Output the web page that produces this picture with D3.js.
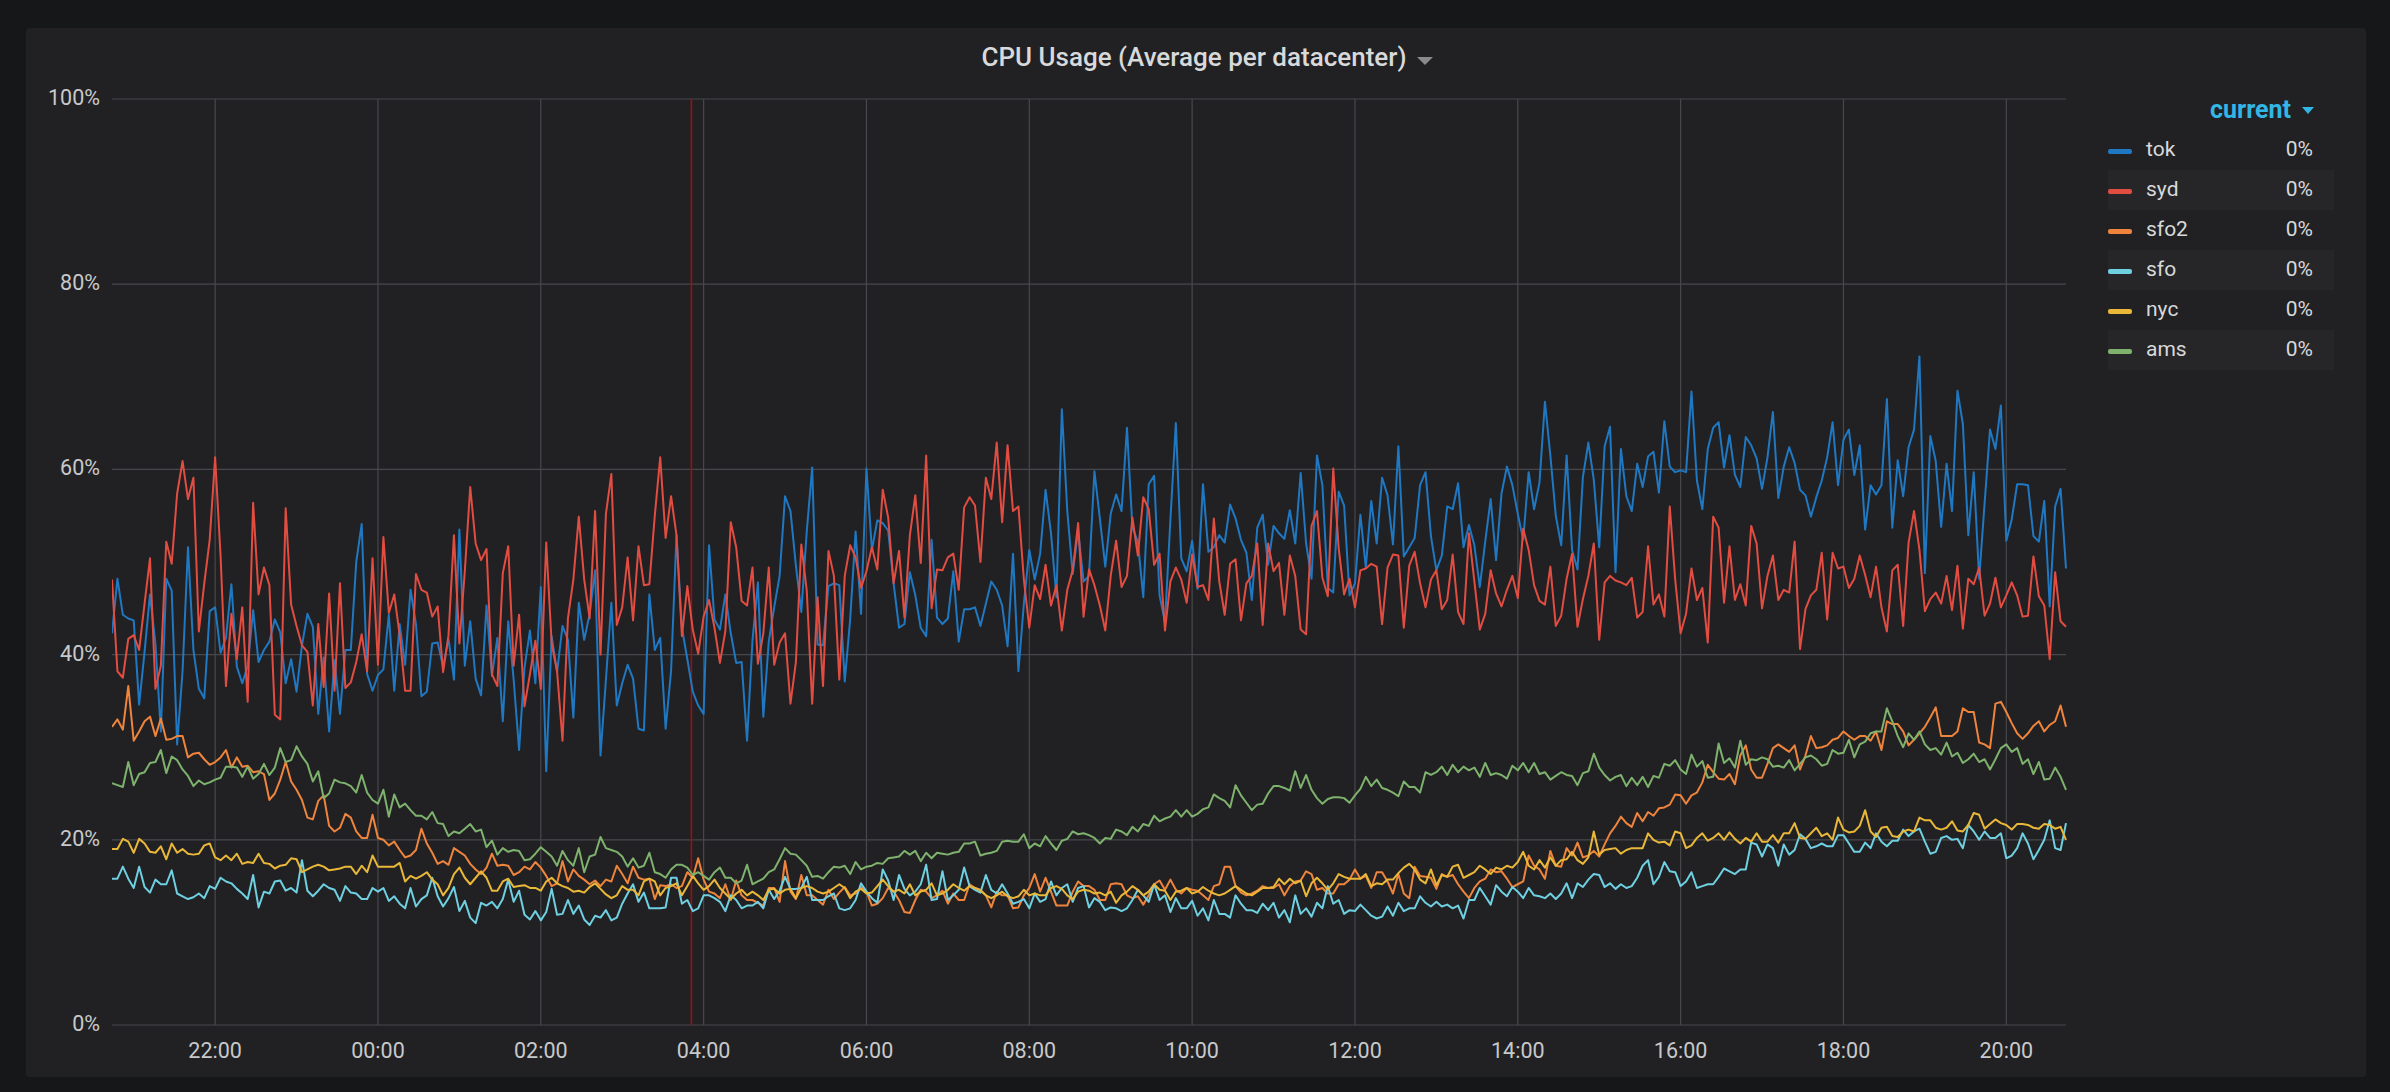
<!DOCTYPE html>
<html>
<head>
<meta charset="utf-8">
<script src="https://cdn.jsdelivr.net/npm/d3@7/dist/d3.min.js"></script>
<style>
  html, body { margin: 0; padding: 0; background: #161719; }
  svg { display: block; }
  text { font-family: Roboto, "Noto Sans", "DejaVu Sans", sans-serif; }
</style>
</head>
<body>
<svg id="chart" width="2390" height="1092"></svg>
<script>
// ---------------- DATA (values in %, one sample every 4 minutes from 20:44) ----------------
const chartTitle = "CPU Usage (Average per datacenter)";
const seriesNames = ["tok", "syd", "sfo2", "sfo", "nyc", "ams"];
const seriesColors = ["#1f78c1", "#e24d42", "#ef843c", "#6ed0e0", "#eab839", "#7eb26d"];
const legendCurrent = ["0%", "0%", "0%", "0%", "0%", "0%"];
const yTickValues = [0, 20, 40, 60, 80, 100];
const startTimeUTC = Date.UTC(2018, 0, 1, 20, 44);
const stepMinutes = 4;
const annotationTimeUTC = Date.UTC(2018, 0, 2, 3, 51);

const tokValues = [
42.3,48.2,44.3,43.9,43.7,34.6,40.3,46.5,41.2,31.7,48.2,46.9,30.3,38.2,51.6,40.5,36.3,35.3,44.7,45.1,40.2,41.8,47.6,38.7,36.9,38.8,44.8,39.2,40.5,41.4,43.8,42.4,36.9,39.5,36.0,41.0,44.4,43.0,33.6,39.7,31.7,39.4,33.6,40.5,40.5,50.0,
54.1,37.9,36.1,37.8,38.4,44.3,36.1,43.3,38.9,47.0,43.3,35.5,36.0,41.2,41.3,38.7,41.7,37.3,53.5,38.8,43.6,37.4,35.6,45.3,37.7,41.8,32.8,43.6,37.3,29.7,38.6,42.6,36.9,47.3,27.4,42.0,38.1,43.1,41.6,33.2,45.6,41.6,44.4,49.1,29.1,37.3,
45.6,34.5,36.9,38.9,37.4,32.0,31.8,46.5,40.5,41.8,32.0,38.2,52.9,42.9,39.5,36.0,34.5,33.6,51.8,43.8,42.7,46.5,42.3,39.1,39.2,30.7,41.5,47.8,33.3,41.4,45.1,48.5,57.1,55.5,49.6,44.6,53.3,60.2,41.1,41.0,47.4,47.7,47.5,37.1,43.8,
53.3,44.4,60.1,51.3,54.5,54.2,53.4,47.7,42.9,43.3,48.9,46.4,42.9,42.0,52.4,44.0,43.3,43.9,49.0,41.4,44.9,44.9,45.1,43.1,45.5,47.9,47.0,45.3,40.9,50.9,38.2,45.5,51.3,48.1,50.9,57.8,53.1,46.2,66.5,55.5,48.7,53.4,47.9,48.5,59.8,
54.7,49.5,55.2,57.3,55.5,64.5,53.7,52.2,46.2,58.4,59.3,46.4,43.5,54.6,65.0,50.4,49.0,52.3,47.1,58.4,51.1,51.6,52.9,52.1,56.2,54.7,52.4,51.0,45.9,53.7,55.1,49.7,53.9,53.1,52.5,55.6,52.0,59.6,52.0,48.2,61.5,58.3,47.2,46.7,57.6,
56.1,46.4,47.7,55.1,49.4,56.6,52.0,59.1,57.2,51.9,62.5,50.6,51.6,52.6,58.3,59.7,52.8,49.1,50.7,56.0,55.7,58.5,51.6,54.0,51.8,47.3,52.2,56.8,50.2,57.4,60.3,58.3,55.2,52.4,59.7,55.7,58.6,67.3,61.5,55.0,51.8,61.5,51.3,49.2,59.2,
62.9,58.9,51.6,62.5,64.6,48.9,62.2,57.1,55.5,60.6,58.1,61.4,61.9,57.5,65.2,60.3,59.7,59.9,59.7,68.4,58.8,55.7,62.2,64.5,65.1,60.2,63.7,59.4,58.1,63.5,62.6,61.2,57.9,61.3,66.2,56.9,60.3,62.4,60.7,57.8,57.2,54.9,57.0,58.8,61.3,
65.1,58.3,63.2,64.3,59.4,62.6,53.5,58.3,57.3,58.3,67.6,53.7,61.0,57.1,62.4,64.3,72.2,48.8,63.6,60.9,53.8,60.6,55.5,68.5,64.9,52.9,59.7,48.2,56.3,64.3,62.2,66.9,52.3,54.6,58.4,58.4,58.3,52.8,52.2,56.6,45.2,56.0,57.9,49.3
];
const sydValues = [
48.1,38.2,37.5,41.7,42.1,40.5,45.5,50.4,36.3,38.8,52.2,49.8,57.4,60.9,56.8,59.1,42.5,47.7,52.4,61.3,50.7,36.6,44.4,39.5,45.1,34.9,56.4,46.5,49.4,47.5,33.5,33.0,55.8,45.4,43.1,41.0,40.3,34.5,43.3,36.5,46.6,36.1,47.7,36.4,37.0,39.2,
42.2,38.2,50.4,38.9,52.7,44.5,46.5,42.1,36.1,36.1,48.7,47.0,46.7,44.1,45.2,38.1,42.1,52.9,41.2,49.0,58.1,52.0,50.2,51.4,37.9,36.6,48.8,51.7,38.8,44.3,34.4,37.9,41.5,36.3,52.1,41.2,38.2,30.7,43.9,48.1,54.9,48.1,43.9,55.5,40.0,55.2,
59.5,43.2,45.1,50.5,43.7,51.7,47.5,47.6,55.0,61.3,52.6,57.1,52.9,42.0,47.4,42.7,40.1,44.1,45.9,42.9,39.1,42.5,54.3,51.6,45.8,45.3,49.4,39.0,42.3,49.4,38.9,41.3,42.3,34.7,39.2,51.9,46.9,34.7,46.2,36.6,51.2,48.5,37.3,48.5,51.8,
50.5,47.2,49.0,51.6,49.2,57.8,54.8,47.7,51.2,44.0,52.9,57.2,49.9,61.5,45.0,49.2,49.1,50.5,50.9,47.0,55.9,57.0,56.1,50.0,59.1,56.8,62.9,54.3,62.6,55.5,56.0,48.1,42.9,47.5,46.0,49.7,45.3,47.5,42.6,47.0,49.1,54.2,44.1,49.2,47.5,
45.3,42.6,48.5,52.3,47.3,48.5,54.8,50.7,57.0,55.7,49.7,50.9,42.6,47.9,49.4,48.1,45.6,50.8,47.3,47.5,45.9,54.7,47.9,44.3,49.8,50.3,43.7,47.7,48.5,52.0,43.2,52.0,49.0,49.9,44.3,50.7,48.5,42.7,42.2,53.9,55.5,48.3,46.3,60.1,51.5,
46.5,48.2,45.1,49.1,49.3,49.8,49.5,43.3,49.4,50.8,50.7,42.9,49.6,51.1,47.7,45.1,48.1,49.1,44.9,45.9,50.8,44.6,43.3,53.1,47.9,42.7,44.4,49.1,46.6,45.2,47.0,48.5,46.1,53.6,51.3,47.5,45.8,45.4,49.5,43.1,44.2,48.2,50.9,43.0,46.0,
48.5,52.0,41.6,47.8,48.5,48.0,47.8,47.5,48.3,44.0,44.6,51.7,45.4,46.5,44.1,56.0,48.1,42.3,44.4,49.3,45.9,47.2,41.3,54.9,53.7,45.6,51.7,45.9,47.6,45.3,53.9,52.0,45.0,48.5,50.7,45.9,47.0,46.7,52.2,40.6,44.9,46.4,47.0,51.0,43.8,
51.0,49.3,49.5,47.2,48.2,50.7,48.6,46.2,49.5,45.1,42.5,49.1,49.7,43.1,52.1,55.5,51.3,44.7,46.0,46.7,45.5,48.5,44.8,49.6,42.8,48.2,47.6,49.4,44.2,45.5,48.3,45.1,46.4,47.8,46.4,44.1,44.2,50.6,46.3,45.3,39.5,48.9,43.6,43.0
];
const sfo2Values = [
32.2,33.0,31.9,36.6,30.7,31.7,32.8,33.3,31.2,33.1,30.8,30.9,31.2,31.2,28.9,29.3,29.4,28.7,28.1,28.4,28.9,29.7,27.8,28.9,27.9,28.0,27.3,27.4,27.1,24.3,25.0,26.5,28.4,26.3,25.4,24.3,22.4,22.2,24.2,24.8,21.5,20.9,21.3,22.8,22.4,20.9,
20.2,20.2,22.7,20.2,20.0,19.4,19.8,18.9,18.1,18.3,18.9,21.2,19.6,18.6,17.4,17.7,17.3,19.1,18.7,18.3,17.4,16.8,16.3,17.0,18.5,17.2,17.3,17.2,16.2,16.5,17.1,16.8,17.6,17.0,16.1,15.0,15.3,17.7,15.5,16.8,16.1,15.7,15.2,15.6,15.0,15.7,
15.5,17.2,16.3,15.3,17.1,15.9,15.7,15.8,13.6,15.1,15.0,15.2,14.8,15.0,16.5,15.9,18.0,15.7,14.4,14.2,13.7,15.2,13.5,15.6,14.0,13.5,13.5,13.2,12.9,14.8,14.8,13.3,17.7,14.4,13.6,16.2,14.0,14.0,13.5,13.0,14.6,13.6,14.3,14.9,14.0,
14.2,14.9,14.4,12.9,13.1,13.7,14.8,14.4,13.5,12.2,12.1,13.5,14.6,14.4,13.7,14.0,14.5,13.1,14.2,13.5,13.5,15.2,14.8,14.6,14.0,12.7,14.4,14.0,14.0,12.6,12.7,14.0,14.8,16.3,14.4,15.9,14.4,12.9,12.9,12.9,14.4,15.5,15.0,15.0,14.6,
13.5,13.5,15.2,15.3,15.2,14.0,13.7,13.9,13.0,14.0,15.2,15.6,14.6,15.7,14.6,14.2,14.8,14.6,14.5,14.0,13.5,15.0,15.2,17.1,17.1,15.0,14.3,14.0,14.2,14.5,15.0,14.8,14.8,15.2,14.0,15.0,15.5,15.6,16.6,16.3,14.6,14.8,14.2,14.2,15.2,
15.2,15.7,16.8,15.8,16.1,14.8,16.5,16.5,15.5,14.2,16.3,14.2,13.7,17.1,16.1,16.0,15.9,14.7,16.3,16.0,16.2,15.2,14.4,13.7,14.8,15.5,15.8,16.8,16.5,16.6,15.8,14.9,15.2,15.5,18.3,17.2,16.8,15.8,18.8,17.2,17.1,19.1,18.3,19.7,18.1,
18.3,18.8,18.2,19.5,20.7,21.5,22.5,21.8,21.4,22.9,22.0,23.0,22.6,23.4,23.5,23.8,24.9,24.8,23.9,24.8,25.1,26.2,28.1,27.3,26.6,26.5,27.1,26.0,29.1,30.2,27.6,26.7,26.7,28.2,29.9,30.3,29.9,29.5,30.2,27.6,29.1,31.2,29.9,30.0,30.2,
30.8,31.0,31.7,31.2,30.8,31.2,31.2,30.7,31.7,29.7,32.8,32.5,32.5,31.7,30.2,30.8,31.5,32.2,33.2,34.3,31.2,31.2,31.2,31.7,34.2,33.8,33.8,30.5,30.3,29.9,34.7,34.9,33.8,32.6,31.5,30.9,31.5,32.3,32.8,31.7,32.4,32.8,34.5,32.2
];
const sfoValues = [
15.8,15.8,17.1,15.8,14.8,17.1,14.9,14.3,15.7,15.2,15.2,16.7,14.2,13.9,13.6,13.8,14.2,13.7,15.0,14.7,15.9,15.5,15.3,14.7,14.2,13.6,16.2,12.7,14.4,14.2,15.5,15.6,14.5,14.8,14.3,17.8,14.5,13.9,14.5,15.2,14.8,14.6,13.4,15.0,14.3,14.2,
13.6,13.6,14.8,14.4,14.8,13.4,13.9,13.1,12.6,14.8,12.8,13.6,14.0,15.9,13.9,12.8,13.7,14.9,12.3,13.4,11.6,11.0,13.2,12.9,13.3,12.6,13.6,15.7,13.3,14.5,11.9,11.4,12.3,11.3,12.2,14.7,11.9,12.0,13.5,12.0,12.9,11.4,10.8,11.8,11.6,12.4,
11.3,11.6,13.1,14.2,15.2,13.3,14.3,12.6,12.6,12.6,12.7,15.9,15.9,13.1,13.5,12.3,12.6,14.0,14.0,13.7,13.3,12.3,14.0,13.5,12.6,12.9,12.9,13.3,12.6,14.6,13.6,14.5,16.0,14.7,14.7,14.8,16.0,13.5,13.5,13.5,13.9,14.2,12.6,12.4,12.6,
13.5,15.3,14.4,13.7,13.2,16.8,15.6,13.5,16.2,14.7,14.0,14.4,15.2,17.3,13.5,13.6,16.6,13.5,14.0,14.6,17.0,15.0,14.6,14.3,16.2,14.6,14.2,15.2,14.2,13.1,13.3,13.6,12.6,14.2,13.3,13.6,15.5,14.0,14.8,15.2,13.3,14.8,15.0,12.7,13.7,
13.3,12.4,12.7,12.6,12.3,12.6,13.5,14.6,14.0,13.3,15.2,13.5,14.0,12.2,13.7,12.6,12.6,13.4,11.8,12.6,11.3,13.5,12.0,12.0,11.6,14.0,13.1,12.4,12.4,12.1,13.1,12.4,13.2,11.6,12.4,11.1,14.0,12.0,12.6,11.7,13.2,12.6,15.0,13.1,13.5,
12.0,12.4,12.3,13.0,12.4,11.8,11.5,11.7,12.8,11.8,13.2,12.3,12.6,12.6,13.9,13.2,12.8,13.3,12.8,13.0,12.6,12.9,11.5,13.5,13.5,14.8,13.9,13.0,15.1,14.4,13.9,14.9,14.4,13.7,14.8,14.0,13.9,13.7,14.2,13.6,14.2,15.3,13.7,15.3,14.9,
15.7,16.3,16.2,14.9,15.3,14.7,15.2,14.8,15.0,15.9,17.2,17.8,15.2,16.0,17.6,16.6,16.5,15.0,15.5,16.5,14.8,15.0,15.2,15.2,16.0,16.9,16.6,16.3,16.8,16.8,19.7,19.5,18.2,19.5,19.1,17.2,19.5,18.4,18.9,20.6,20.1,19.1,19.3,19.6,19.3,
19.3,20.5,20.5,19.6,18.7,18.7,19.7,19.1,20.7,19.8,19.3,19.9,19.9,21.1,20.4,20.9,21.2,19.8,18.5,18.7,20.2,20.4,20.0,20.1,19.1,21.6,20.9,20.0,20.9,20.2,20.2,20.7,18.0,18.3,19.1,20.7,19.6,17.9,18.9,20.0,22.1,19.1,18.9,21.8
];
const nycValues = [
19.0,19.0,20.1,19.8,18.6,20.1,19.6,18.7,18.6,19.3,17.9,19.6,18.6,19.0,18.5,18.4,18.5,19.4,19.6,18.1,17.8,18.3,17.8,18.5,17.4,17.6,17.5,18.5,17.5,17.4,16.9,17.2,17.3,18.0,17.9,16.5,16.8,17.1,17.3,17.1,16.7,16.8,16.9,17.1,17.1,16.3,
17.2,16.5,18.3,17.1,17.1,17.1,17.1,17.5,15.5,16.1,15.8,16.1,16.5,15.7,15.2,14.0,14.8,16.3,17.0,15.9,15.2,15.9,16.6,15.9,14.5,14.5,15.5,15.8,14.9,15.0,15.1,14.8,14.8,14.5,15.5,15.9,15.3,15.0,14.8,14.4,14.5,14.3,14.9,15.3,14.7,14.1,
13.7,14.0,15.0,14.6,14.6,14.0,15.5,15.8,15.5,14.0,14.8,15.0,15.3,14.0,15.0,16.1,15.3,14.6,15.0,15.7,14.8,14.2,13.6,14.2,14.6,14.0,14.4,14.0,13.5,14.6,14.7,14.2,14.6,14.7,13.7,14.8,15.0,14.8,14.4,14.2,14.4,14.8,15.2,14.8,13.7,
14.4,14.7,14.2,14.3,15.0,15.7,15.0,14.4,14.6,14.2,15.2,14.0,14.4,14.6,15.3,14.0,14.2,14.6,15.2,14.8,14.5,15.0,14.8,14.5,14.0,13.7,14.0,14.4,13.9,13.7,13.9,14.6,14.0,14.2,14.0,14.0,14.8,15.0,14.7,14.0,13.6,14.4,14.6,14.5,14.2,
14.3,14.0,14.4,13.2,14.0,14.4,15.0,14.6,14.0,14.4,15.2,14.6,14.5,13.5,14.4,14.5,14.8,14.2,14.4,14.9,14.5,14.2,14.0,14.2,14.6,15.0,14.6,14.2,14.0,14.4,14.8,14.8,14.9,15.8,15.2,15.8,15.3,15.6,13.9,15.3,15.9,15.3,14.6,15.3,16.3,
16.0,15.8,15.8,15.8,16.3,15.0,15.3,15.2,15.7,15.7,16.4,17.0,17.4,16.8,15.7,15.3,16.8,15.1,16.2,16.0,17.1,17.3,15.9,16.2,16.5,17.2,16.8,16.3,17.0,16.8,17.2,17.0,17.6,18.7,17.2,16.8,17.8,17.0,18.1,17.2,17.8,17.9,18.7,17.8,17.4,
18.1,20.9,18.4,18.9,19.0,19.1,18.5,18.9,19.1,19.1,19.1,20.7,20.0,19.7,19.8,19.4,20.9,20.7,19.1,19.4,20.2,20.7,19.9,20.2,20.7,20.0,20.8,20.1,19.6,20.2,19.8,20.7,19.8,19.8,20.5,19.7,20.7,20.7,21.8,20.2,20.1,20.7,21.3,20.4,20.7,
20.0,22.4,21.1,20.8,20.9,21.5,23.2,20.9,20.3,21.3,21.4,20.4,20.3,20.9,21.1,20.9,22.4,22.1,22.1,21.3,21.1,21.3,22.0,21.0,20.9,21.6,22.9,22.7,21.2,21.7,22.2,21.8,21.6,21.1,21.7,21.7,21.6,21.3,21.2,21.7,21.6,21.2,21.4,20.0
];
const amsValues = [
26.1,25.9,25.7,28.4,25.9,27.1,27.3,28.3,28.4,29.7,27.2,29.0,28.6,27.6,26.9,25.8,26.4,26.0,26.2,26.5,26.7,27.9,27.9,27.8,26.8,27.9,26.6,27.1,28.2,27.0,27.8,29.9,28.4,28.6,30.1,29.0,28.2,26.3,27.4,24.5,25.0,26.5,26.2,26.1,25.8,25.1,
27.0,25.1,24.3,23.9,25.4,22.5,24.9,23.5,23.9,23.2,22.6,22.6,22.2,23.0,21.8,21.7,20.4,20.9,20.7,21.2,21.7,20.9,21.1,19.2,19.9,18.4,19.1,18.7,18.9,18.8,17.8,17.9,18.5,19.2,18.7,18.2,17.2,18.8,17.8,17.2,19.1,16.5,18.2,18.4,20.3,19.1,
18.9,18.7,18.2,17.1,18.0,17.0,17.2,18.6,16.5,16.3,15.9,16.8,17.3,17.3,17.0,16.2,16.5,16.1,15.7,16.5,17.0,15.9,15.9,15.3,15.6,17.3,15.2,15.5,15.8,16.5,16.8,17.9,19.1,18.5,18.4,17.8,17.2,16.0,16.1,15.8,16.5,17.1,17.0,17.2,16.3,
17.6,16.8,17.1,17.2,17.5,17.4,18.0,18.1,18.2,18.8,18.4,18.8,17.7,18.6,18.0,18.6,18.5,18.4,18.6,18.7,19.6,19.6,19.8,18.3,18.5,18.6,18.8,19.8,19.9,19.8,19.8,20.6,19.1,19.6,19.3,20.4,19.6,18.9,19.9,20.1,20.9,20.6,20.7,20.5,20.2,
19.6,20.2,20.1,21.1,20.9,20.5,21.4,20.9,21.7,21.5,22.6,22.0,22.3,22.5,23.2,22.5,23.2,22.5,22.8,23.3,23.5,24.9,24.5,24.2,23.5,25.9,24.8,24.0,23.2,23.8,23.9,25.0,25.8,25.8,25.6,25.3,27.4,25.6,27.0,25.4,24.5,23.9,24.4,24.6,24.6,
24.5,24.0,24.8,25.5,26.8,25.8,26.5,25.6,25.4,25.1,24.7,26.3,25.7,25.7,25.1,27.3,27.0,27.3,27.9,27.0,28.1,27.3,27.9,27.5,27.8,26.8,28.3,27.0,27.2,27.0,26.6,28.0,27.5,28.3,27.3,28.3,27.1,27.3,26.5,26.9,27.3,27.0,26.9,25.9,27.2,
27.4,29.3,27.8,27.0,26.4,26.8,27.0,25.8,26.7,25.9,26.8,25.7,26.9,26.7,28.2,28.0,28.6,27.6,27.1,29.2,27.9,28.5,26.7,26.8,30.4,28.3,28.8,27.8,30.7,28.1,28.7,28.6,28.9,28.7,27.9,28.0,27.8,28.6,27.5,28.2,28.9,29.1,28.7,28.0,28.2,
29.7,29.3,29.4,30.8,28.9,30.3,30.6,31.5,31.7,31.7,34.2,32.8,31.2,30.0,31.5,30.8,31.7,30.3,29.7,29.9,29.2,30.5,29.0,29.4,28.3,28.7,29.3,28.4,28.7,27.6,28.7,29.9,30.3,29.5,29.9,28.2,28.7,27.1,28.4,26.5,26.6,27.8,26.8,25.4
];

// ---------------- LAYOUT ----------------
const W = 2390, H = 1092;
const plot = { left: 112, right: 2066, top: 99, bottom: 1025 };
const allValues = [tokValues, sydValues, sfo2Values, sfoValues, nycValues, amsValues];
const nPts = tokValues.length;
const timeAt = i => new Date(startTimeUTC + i * stepMinutes * 60000);

const svg = d3.select("#chart");

// background & panel
svg.append("rect").attr("x", 0).attr("y", 0).attr("width", W).attr("height", H).attr("fill", "#161719");
svg.append("rect").attr("x", 26).attr("y", 28).attr("width", 2340).attr("height", 1049)
  .attr("rx", 3).attr("fill", "#212124");

// title
svg.append("text").attr("x", 1194).attr("y", 66).attr("text-anchor", "middle")
  .attr("font-size", 26).attr("font-weight", 500).attr("fill", "#d8d9da").text(chartTitle);
svg.append("path").attr("d", "M1417,57 L1433,57 L1425,65 Z").attr("fill", "#8a8a8a");

// scales
const x = d3.scaleUtc()
  .domain([timeAt(0), timeAt(nPts - 1)])
  .range([plot.left, plot.right]);
const y = d3.scaleLinear().domain([0, 100]).range([plot.bottom, plot.top]);

// grid
const gridColor = "#48484c";
const g = svg.append("g");
const xTicks = x.ticks(d3.utcHour.every(2));
g.selectAll(".vgrid").data(xTicks).join("line")
  .attr("x1", d => x(d)).attr("x2", d => x(d))
  .attr("y1", plot.top).attr("y2", plot.bottom)
  .attr("stroke", gridColor).attr("stroke-width", 1.2);
g.selectAll(".hgrid").data(yTickValues).join("line")
  .attr("x1", plot.left).attr("x2", plot.right)
  .attr("y1", d => y(d)).attr("y2", d => y(d))
  .attr("stroke", gridColor).attr("stroke-width", 1.2);

// axis labels
const fmt = d3.utcFormat("%H:%M");
g.selectAll(".xlab").data(xTicks).join("text")
  .attr("x", d => x(d)).attr("y", 1058).attr("text-anchor", "middle")
  .attr("font-size", 21.5).attr("fill", "#c8c9ca").text(d => fmt(d));
g.selectAll(".ylab").data(yTickValues).join("text")
  .attr("x", 100).attr("y", d => y(d) + 6).attr("text-anchor", "end")
  .attr("font-size", 21.5).attr("fill", "#c8c9ca").text(d => d + "%");

// clip
svg.append("clipPath").attr("id", "plotclip").append("rect")
  .attr("x", plot.left).attr("y", plot.top - 2)
  .attr("width", plot.right - plot.left + 2).attr("height", plot.bottom - plot.top + 4);

// annotation line
svg.append("line")
  .attr("x1", x(new Date(annotationTimeUTC))).attr("x2", x(new Date(annotationTimeUTC)))
  .attr("y1", plot.top).attr("y2", plot.bottom)
  .attr("stroke", "#9a1014").attr("stroke-width", 1.6);

// series lines
const line = d3.line().x((d, i) => x(timeAt(i))).y(d => y(d));
const lines = svg.append("g").attr("clip-path", "url(#plotclip)");
allValues.forEach((vals, si) => {
  lines.append("path").datum(vals)
    .attr("d", line)
    .attr("fill", "none")
    .attr("stroke", seriesColors[si])
    .attr("stroke-width", 2)
    .attr("stroke-linejoin", "round");
});

// legend
const lg = svg.append("g");
lg.append("text").attr("x", 2210).attr("y", 118).attr("font-size", 25).attr("font-weight", 700)
  .attr("fill", "#33b5e5").text("current");
lg.append("path").attr("d", "M2302,107 L2314,107 L2308,114 Z").attr("fill", "#33b5e5");
seriesNames.forEach((name, i) => {
  const cy = 150 + 40 * i;
  if (i % 2 === 1) {
    lg.append("rect").attr("x", 2108).attr("y", cy - 20).attr("width", 226).attr("height", 40)
      .attr("fill", "#262629");
  }
  lg.append("rect").attr("x", 2108).attr("y", cy - 1).attr("width", 24).attr("height", 5)
    .attr("rx", 2).attr("fill", seriesColors[i]);
  lg.append("text").attr("x", 2146).attr("y", cy + 6).attr("font-size", 21)
    .attr("fill", "#d8d9da").text(name);
  lg.append("text").attr("x", 2313).attr("y", cy + 6).attr("font-size", 21).attr("text-anchor", "end")
    .attr("fill", "#d8d9da").text(legendCurrent[i]);
});
</script>
</body>
</html>
